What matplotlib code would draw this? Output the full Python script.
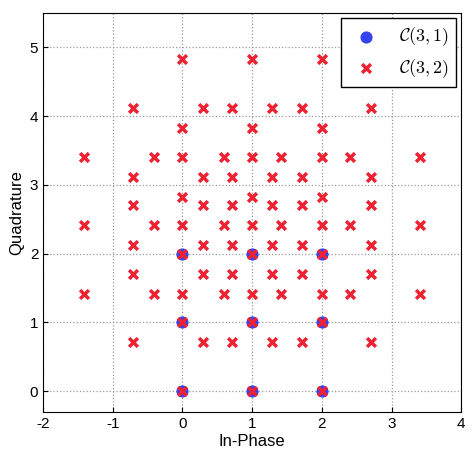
import matplotlib
matplotlib.use("Agg")
import matplotlib.pyplot as plt
import numpy as np

c31_x = [0, 1, 2, 0, 1, 2, 0, 1, 2]
c31_y = [0, 0, 0, 1, 1, 1, 2, 2, 2]

row6_x = [-0.71, 0.29, 0.71, 1.29, 1.71, 2.71]
row6_y = [0.71, 1.71, 2.12, 2.71, 3.12, 4.12]
row9_x = [-1.41, -0.41, 0, 0.59, 1, 1.41, 2, 2.41, 3.41]
row9_y = [1.41, 2.41, 3.41]
row3_x = [0, 1, 2]
row3_y = [0, 1, 2, 2.83, 3.83, 4.83]

c32_x, c32_y = [], []
for xs, ys in ((row6_x, row6_y), (row9_x, row9_y), (row3_x, row3_y)):
    for yv in ys:
        for xv in xs:
            c32_x.append(xv); c32_y.append(yv)

plt.rcParams['font.family'] = ['Liberation Sans', 'DejaVu Sans']
plt.rcParams['mathtext.fontset'] = 'cm'
plt.rcParams['axes.unicode_minus'] = False
fig = plt.figure(figsize=(4.74, 4.74), dpi=100)
ax = fig.add_axes([0.091, 0.131, 0.882, 0.842])
ax.scatter(c31_x, c31_y, s=60, color='#3344ee', marker='o', label=r'$\mathcal{C}(3,1)$', zorder=3)
ax.scatter(c32_x, c32_y, s=40, color='#ee2233', marker='x', linewidths=2.5, label=r'$\mathcal{C}(3,2)$', zorder=4)
ax.set_xlim(-2, 4)
ax.set_ylim(-0.3, 5.5)
ax.set_xticks(range(-2, 5))
ax.set_yticks(range(0, 6))
ax.grid(True, linestyle=':', color='#999999', linewidth=0.9)
ax.tick_params(labelsize=11, direction='in')
ax.set_xlabel('In-Phase', fontsize=12, labelpad=2)
ax.set_ylabel('Quadrature', fontsize=12)
leg = ax.legend(loc='upper right', fontsize=13, fancybox=False, framealpha=1, edgecolor='black', borderaxespad=0.3)
leg.get_frame().set_linewidth(1.0)
fig.savefig('out.png', dpi=100)
